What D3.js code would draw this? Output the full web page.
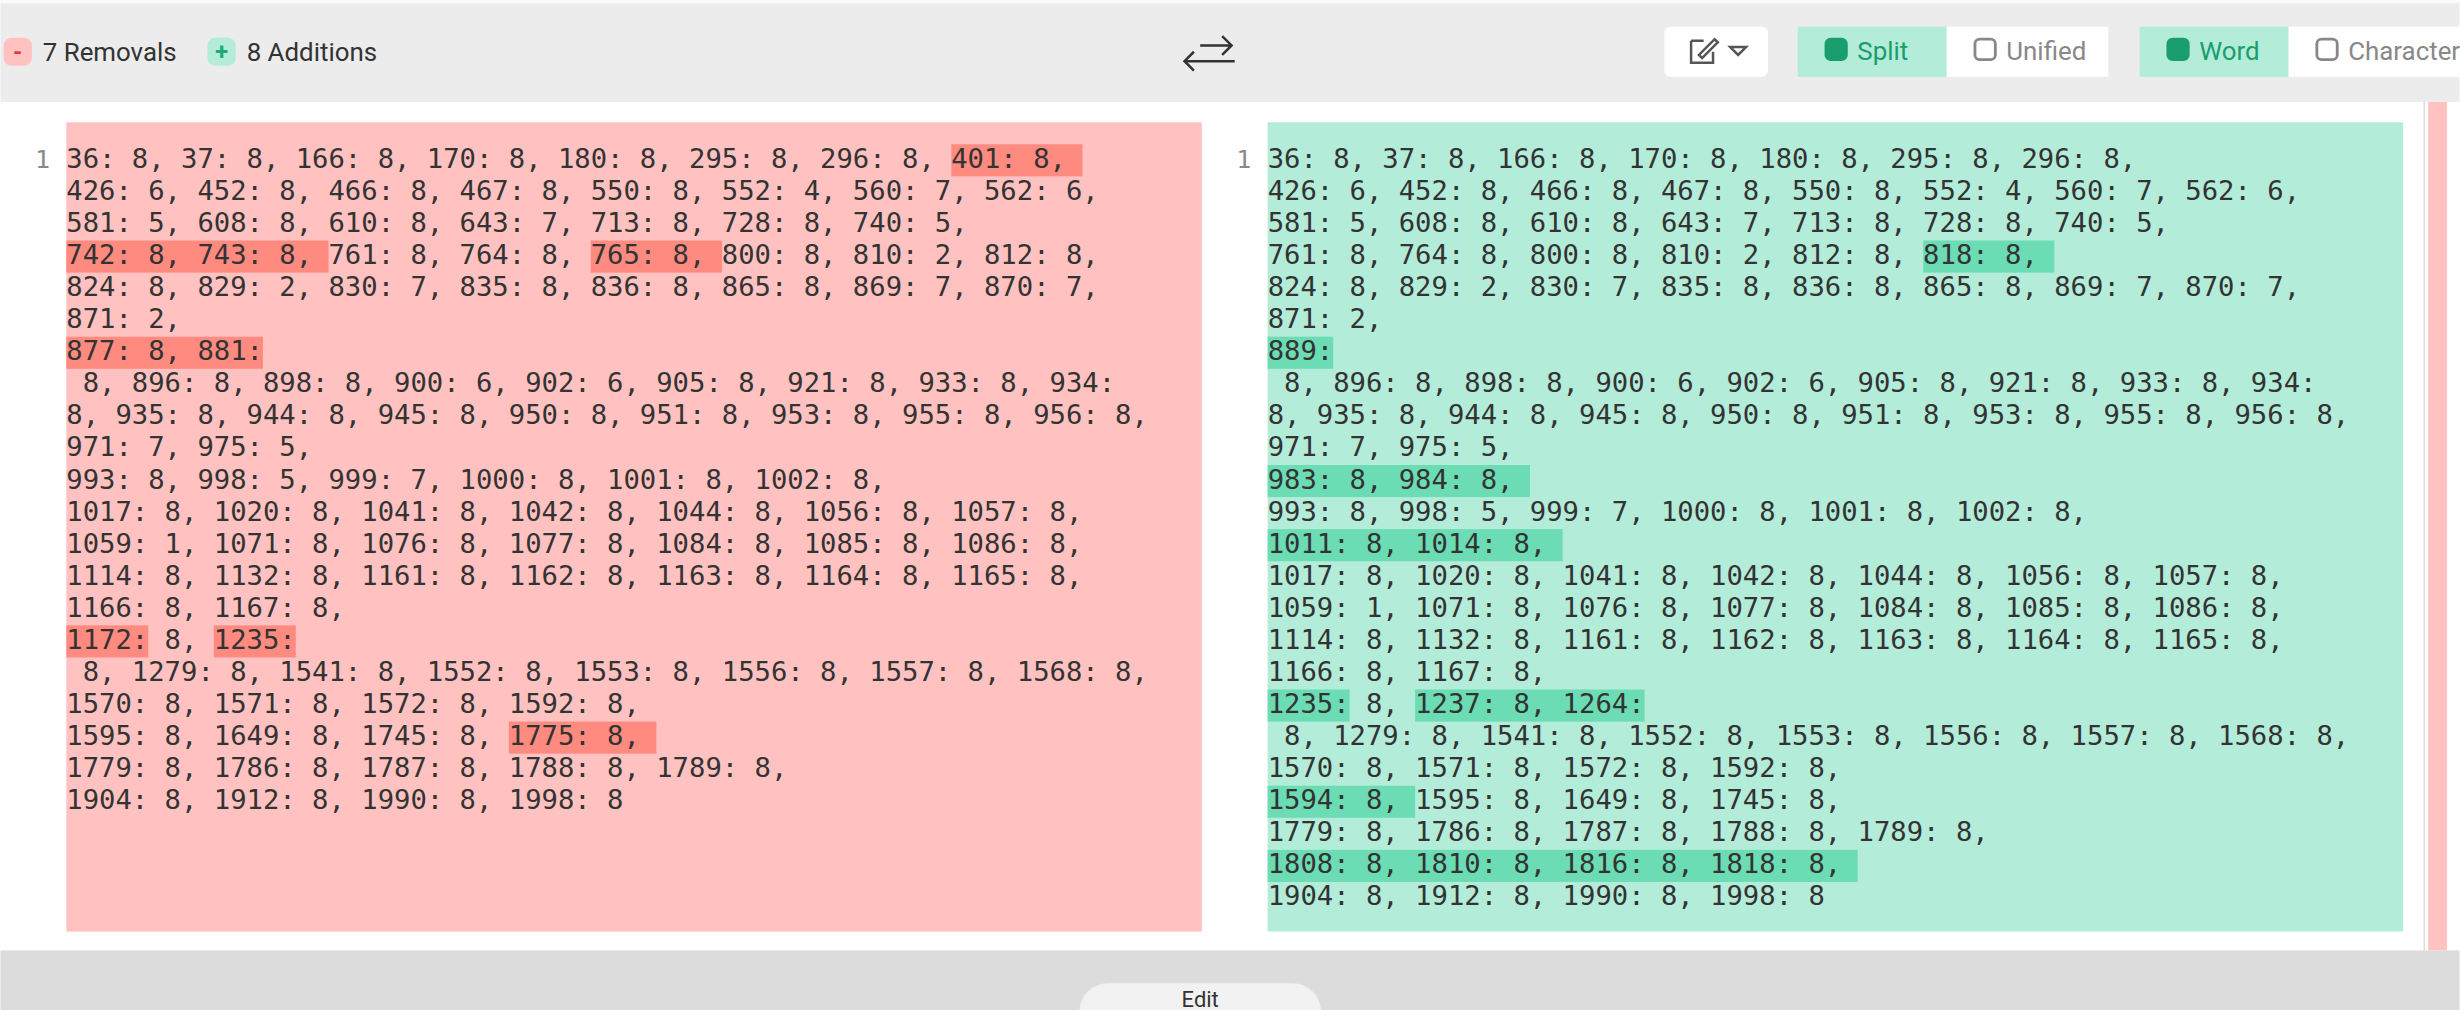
<!doctype html>
<html>
  <head>
    <script src="https://cdnjs.cloudflare.com/ajax/libs/d3/7.8.5/d3.min.js"></script>
    <style>body{margin:0;background:#fff;overflow:hidden}</style>
  </head>
  <body>
    <svg id="viz" width="2460" height="1010" viewBox="0 0 1568 644"></svg>
    <script>
        // each line is a list of [text, highlighted]
        var removedLines = [
            [["36: 8, 37: 8, 166: 8, 170: 8, 180: 8, 295: 8, 296: 8, ",0],["401: 8, ",1]],
            [["426: 6, 452: 8, 466: 8, 467: 8, 550: 8, 552: 4, 560: 7, 562: 6,",0]],
            [["581: 5, 608: 8, 610: 8, 643: 7, 713: 8, 728: 8, 740: 5,",0]],
            [["742: 8, 743: 8, ",1],["761: 8, 764: 8, ",0],["765: 8, ",1],["800: 8, 810: 2, 812: 8,",0]],
            [["824: 8, 829: 2, 830: 7, 835: 8, 836: 8, 865: 8, 869: 7, 870: 7,",0]],
            [["871: 2,",0]],
            [["877: 8, 881:",1]],
            [[" 8, 896: 8, 898: 8, 900: 6, 902: 6, 905: 8, 921: 8, 933: 8, 934:",0]],
            [["8, 935: 8, 944: 8, 945: 8, 950: 8, 951: 8, 953: 8, 955: 8, 956: 8,",0]],
            [["971: 7, 975: 5,",0]],
            [["993: 8, 998: 5, 999: 7, 1000: 8, 1001: 8, 1002: 8,",0]],
            [["1017: 8, 1020: 8, 1041: 8, 1042: 8, 1044: 8, 1056: 8, 1057: 8,",0]],
            [["1059: 1, 1071: 8, 1076: 8, 1077: 8, 1084: 8, 1085: 8, 1086: 8,",0]],
            [["1114: 8, 1132: 8, 1161: 8, 1162: 8, 1163: 8, 1164: 8, 1165: 8,",0]],
            [["1166: 8, 1167: 8,",0]],
            [["1172:",1],[" 8, ",0],["1235:",1]],
            [[" 8, 1279: 8, 1541: 8, 1552: 8, 1553: 8, 1556: 8, 1557: 8, 1568: 8,",0]],
            [["1570: 8, 1571: 8, 1572: 8, 1592: 8,",0]],
            [["1595: 8, 1649: 8, 1745: 8, ",0],["1775: 8, ",1]],
            [["1779: 8, 1786: 8, 1787: 8, 1788: 8, 1789: 8,",0]],
            [["1904: 8, 1912: 8, 1990: 8, 1998: 8",0]]
        ];
        var addedLines = [
            [["36: 8, 37: 8, 166: 8, 170: 8, 180: 8, 295: 8, 296: 8,",0]],
            [["426: 6, 452: 8, 466: 8, 467: 8, 550: 8, 552: 4, 560: 7, 562: 6,",0]],
            [["581: 5, 608: 8, 610: 8, 643: 7, 713: 8, 728: 8, 740: 5,",0]],
            [["761: 8, 764: 8, 800: 8, 810: 2, 812: 8, ",0],["818: 8, ",1]],
            [["824: 8, 829: 2, 830: 7, 835: 8, 836: 8, 865: 8, 869: 7, 870: 7,",0]],
            [["871: 2,",0]],
            [["889:",1]],
            [[" 8, 896: 8, 898: 8, 900: 6, 902: 6, 905: 8, 921: 8, 933: 8, 934:",0]],
            [["8, 935: 8, 944: 8, 945: 8, 950: 8, 951: 8, 953: 8, 955: 8, 956: 8,",0]],
            [["971: 7, 975: 5,",0]],
            [["983: 8, 984: 8, ",1]],
            [["993: 8, 998: 5, 999: 7, 1000: 8, 1001: 8, 1002: 8,",0]],
            [["1011: 8, 1014: 8, ",1]],
            [["1017: 8, 1020: 8, 1041: 8, 1042: 8, 1044: 8, 1056: 8, 1057: 8,",0]],
            [["1059: 1, 1071: 8, 1076: 8, 1077: 8, 1084: 8, 1085: 8, 1086: 8,",0]],
            [["1114: 8, 1132: 8, 1161: 8, 1162: 8, 1163: 8, 1164: 8, 1165: 8,",0]],
            [["1166: 8, 1167: 8,",0]],
            [["1235:",1],[" 8, ",0],["1237: 8, 1264:",1]],
            [[" 8, 1279: 8, 1541: 8, 1552: 8, 1553: 8, 1556: 8, 1557: 8, 1568: 8,",0]],
            [["1570: 8, 1571: 8, 1572: 8, 1592: 8,",0]],
            [["1594: 8, ",1],["1595: 8, 1649: 8, 1745: 8,",0]],
            [["1779: 8, 1786: 8, 1787: 8, 1788: 8, 1789: 8,",0]],
            [["1808: 8, 1810: 8, 1816: 8, 1818: 8, ",1]],
            [["1904: 8, 1912: 8, 1990: 8, 1998: 8",0]]
        ];
        var summary = [["-", "7 Removals"], ["+", "8 Additions"]];

        var svg = d3.select("#viz");
        var FS = 17.36;          // monospace font size
        var CW = FS * 0.602;     // DejaVu Sans Mono advance width
        var y = d3.scaleLinear().domain([0, 1]).range([107, 127.45]);

        // header + backgrounds
        svg.append("rect").attr("width", 1568).attr("height", 644).attr("fill", "#fff");
        svg.append("rect").attr("y", 2).attr("width", 1568).attr("height", 63).attr("fill", "#ececec");
        svg.append("rect").attr("y", 0).attr("width", 1568).attr("height", 2).attr("fill", "#fafafa");
        svg.append("rect").attr("y", 606).attr("width", 1568).attr("height", 38).attr("fill", "#dcdcdc");
        svg.append("rect").attr("x", 688).attr("y", 627).attr("width", 154).attr("height", 40).attr("rx", 18).attr("fill", "#f2f2f2");
        svg.append("text").attr("x", 765).attr("y", 642).attr("text-anchor", "middle")
            .attr("font-family", "Roboto").attr("font-size", 14).attr("fill", "#333").text("Edit");
        svg.append("rect").attr("x", 1545).attr("y", 65).attr("width", 1).attr("height", 541).attr("fill", "#ddd");
        svg.append("rect").attr("x", 1548).attr("y", 65).attr("width", 12).attr("height", 541).attr("fill", "#ffc2c0");

        // summary badges
        var badge = svg.selectAll("g.badge").data(summary).enter().append("g")
            .attr("transform", (d, i) => `translate(${i ? 132 : 2},24)`);
        badge.append("rect").attr("width", 18).attr("height", 18).attr("rx", 5)
            .attr("fill", (d, i) => i ? "#b3ecd9" : "#ffc2c0");
        badge.append("text").attr("x", 9).attr("y", 14).attr("text-anchor", "middle")
            .attr("font-family", "Roboto").attr("font-size", 15).attr("font-weight", "bold")
            .attr("fill", (d, i) => i ? "#1dab73" : "#e53935").text(d => d[0]);
        badge.append("text").attr("x", 25).attr("y", 15)
            .attr("font-family", "Roboto").attr("font-size", 16.5).attr("fill", "#333").text(d => d[1]);

        // swap arrows
        svg.append("path").attr("d", "M765,29 H785 M779,23 L785,29 L779,35 M787,39 H755 M761,33 L755,39 L761,45")
            .attr("fill", "none").attr("stroke", "#333").attr("stroke-width", 1.6);

        // toolbar
        svg.append("rect").attr("x", 1061).attr("y", 17).attr("width", 66).attr("height", 32).attr("rx", 4).attr("fill", "#fff");
        svg.append("path").attr("d", "M1078,26 h8 M1078,26 v14 h14 v-7 M1085,37 l10,-10 l-2,-2 l-10,10 z M1103,30 l5,5 l5,-5 z")
            .attr("fill", "none").attr("stroke", "#555").attr("stroke-width", 1.6);
        var toggles = [["Split", 1146, 95, true], ["Unified", 1241, 103, false], ["Word", 1364, 95, true], ["Character", 1459, 120, false]];
        var tg = svg.selectAll("g.tg").data(toggles).enter().append("g");
        tg.append("rect").attr("x", d => d[1]).attr("y", 17).attr("width", d => d[2]).attr("height", 32)
            .attr("fill", d => d[3] ? "#b3ecd9" : "#fff");
        tg.append("rect").attr("x", d => d[1] + 18).attr("y", 25).attr("width", 13).attr("height", 13).attr("rx", 3)
            .attr("fill", d => d[3] ? "#1a9e6e" : "none").attr("stroke", d => d[3] ? "#1a9e6e" : "#888").attr("stroke-width", 1.8);
        tg.append("text").attr("x", d => d[1] + 38).attr("y", 38)
            .attr("font-family", "Roboto").attr("font-size", 16.5)
            .attr("fill", d => d[3] ? "#1a9e6e" : "#888").text(d => d[0]);

        function panel(lines, x0, bg, hl) {
            var g = svg.append("g");
            g.append("rect").attr("x", x0).attr("y", 78).attr("width", 724).attr("height", 516).attr("fill", bg);
            g.append("text").attr("x", x0 - 20).attr("y", y(0)).attr("font-family", "DejaVu Sans Mono")
                .attr("font-size", 16).attr("fill", "#888").text("1");
            lines.forEach((segs, i) => {
                var col = 0;
                segs.forEach(s => {
                    if (s[1]) g.append("rect").attr("x", x0 + col * CW).attr("y", y(i) - 15)
                        .attr("width", s[0].length * CW).attr("height", 20.45).attr("fill", hl);
                    col += s[0].length;
                });
                g.append("text").attr("x", x0).attr("y", y(i)).attr("xml:space", "preserve")
                    .attr("font-family", "DejaVu Sans Mono").attr("font-size", FS).attr("fill", "#333")
                    .text(segs.map(s => s[0]).join(""));
            });
        }
        panel(removedLines, 42, "#ffc2c0", "#ff8a80");
        panel(addedLines, 808, "#b3ecd9", "#6bdcb3");
    </script>
  </body>
</html>
